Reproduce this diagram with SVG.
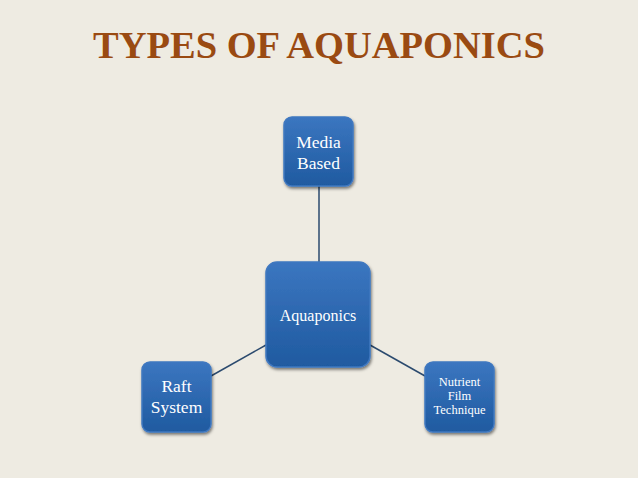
<svg xmlns="http://www.w3.org/2000/svg" width="638" height="478" viewBox="0 0 638 478">
<style>
.n{fill:url(#g);stroke:#3f78c0;stroke-width:1.5}
.t{font-family:"Liberation Serif",serif;fill:#fff;text-anchor:middle}
.c{stroke:#2b4a6e;stroke-width:1.5;fill:none}
</style>
<defs>
<linearGradient id="g" x1="0" y1="0" x2="0" y2="1"><stop offset="0" stop-color="#3b76c0"/><stop offset="1" stop-color="#1f5aa0"/></linearGradient>
<filter id="s" x="-20%" y="-20%" width="140%" height="140%"><feDropShadow dx="1" dy="2" stdDeviation="1.5" flood-color="#000" flood-opacity="0.5"/></filter>
</defs>
<rect width="638" height="478" fill="#eeebe2"/>
<text x="319" y="58" font-family="Liberation Serif,serif" font-weight="bold" font-size="38.5" fill="#9a4a12" text-anchor="middle">TYPES OF AQUAPONICS</text>
<g id="connectors">
<line class="c" x1="319" y1="186" x2="319" y2="262"/>
<line class="c" x1="211" y1="376" x2="266" y2="345"/>
<line class="c" x1="370" y1="345" x2="425" y2="376"/>
</g>
<g id="center"><rect class="n" filter="url(#s)" x="266" y="262" width="104" height="105" rx="11"/><text class="t" x="318" y="321" font-size="16">Aquaponics</text></g>
<g id="media"><rect class="n" filter="url(#s)" x="284" y="117" width="69" height="69" rx="8"/><text class="t" font-size="17.5"><tspan x="318.5" y="148">Media</tspan><tspan x="318.5" y="169">Based</tspan></text></g>
<g id="raft"><rect class="n" filter="url(#s)" x="142" y="362" width="69" height="70" rx="8"/><text class="t" font-size="17.5"><tspan x="176.5" y="392">Raft</tspan><tspan x="176.5" y="413">System</tspan></text></g>
<g id="nft"><rect class="n" filter="url(#s)" x="425" y="362" width="69" height="70" rx="8"/><text class="t" font-size="12.5"><tspan x="459.5" y="386">Nutrient</tspan><tspan x="459.5" y="400">Film</tspan><tspan x="459.5" y="414">Technique</tspan></text></g>
</svg>
